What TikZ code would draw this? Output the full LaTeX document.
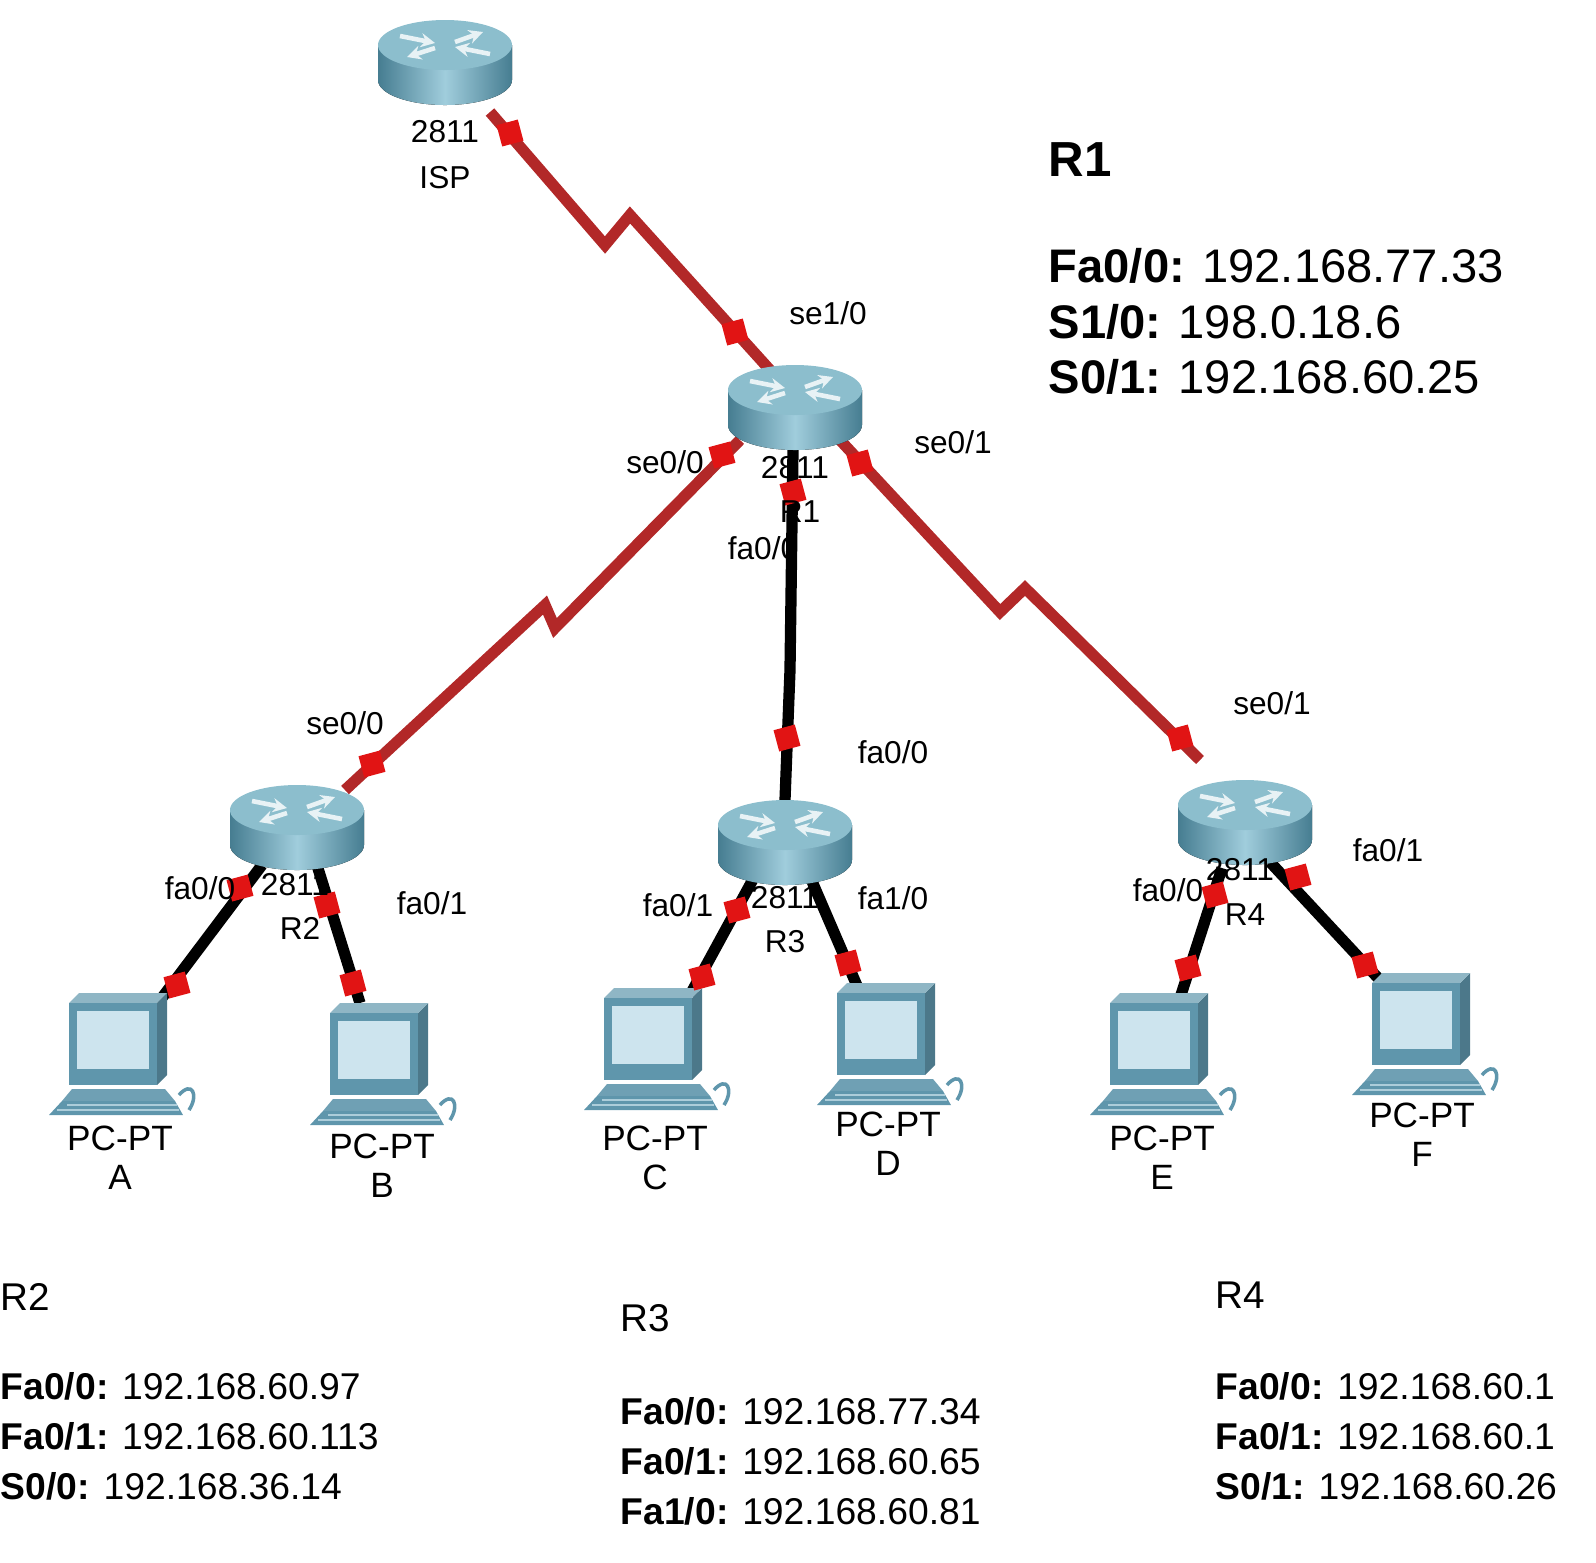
\documentclass[tikz,border=0pt]{standalone}
\usepackage{fontspec}
\setmainfont{Liberation Sans}
\usetikzlibrary{arrows.meta}
\begin{document}
\begin{tikzpicture}[x=0.01cm,y=-0.01cm]
\definecolor{ser}{RGB}{178,40,40}
\definecolor{dotr}{RGB}{225,20,20}
\definecolor{rdark}{RGB}{70,125,145}
\definecolor{rlight}{RGB}{160,205,220}
\definecolor{rtop}{RGB}{140,190,205}
\definecolor{pcframe}{RGB}{95,150,172}
\definecolor{pcscreen}{RGB}{205,228,238}
\tikzset{
 serial/.style={draw=ser,line width=3.2pt},
 eth/.style={draw=black,line width=3.2pt},
 lbl/.style={font=\fontsize{9}{10}\selectfont,inner sep=0pt},
 pclbl/.style={font=\fontsize{10}{11}\selectfont,inner sep=0pt,align=center},
 ttl/.style={font=\fontsize{11}{12}\selectfont,inner sep=0pt,anchor=west},
 bigttl/.style={font=\bfseries\fontsize{14}{16}\selectfont,inner sep=0pt,anchor=west},
 info/.style={font=\fontsize{10.6}{14.2}\selectfont,inner sep=0pt,anchor=north west,align=left},
 biginfo/.style={font=\fontsize{13.4}{15.8}\selectfont,inner sep=0pt,anchor=north west,align=left},
 rdot/.style={fill=dotr,minimum size=0.22cm,inner sep=0pt,rotate=15},
 rarr/.style={white!80!rtop,line width=1.3pt,-{Stealth[length=4pt,width=4pt]}},
 router/.pic={
  \fill[left color=rdark,right color=rdark,middle color=rlight] (-67,-15) -- (-67,20) arc[x radius=67,y radius=25,start angle=180,end angle=0] -- (67,-15) -- cycle;
  \fill[rtop] (0,-15) ellipse[x radius=67,y radius=25];
  \draw[rarr] (-45,-24)--(-10,-17);
  \draw[rarr] (45,-6)--(10,-13);
  \draw[rarr] (-10,-12)--(-38,-3);
  \draw[rarr] (10,-18)--(38,-28);
 },
 pc/.pic={
  \fill[pcframe!80!black] (40,-42)--(50,-52)--(50,30)--(40,40)--cycle;
  \fill[pcframe!70!white] (-48,-42)--(-38,-52)--(50,-52)--(40,-42)--cycle;
  \fill[pcframe] (-48,-42) rectangle (40,40);
  \fill[pcscreen] (-40,-34) rectangle (32,24);
  \fill[pcframe!90!white] (-45,44)--(48,44)--(58,56)--(-55,56)--cycle;
  \fill[pcframe] (-55,56)--(58,56)--(66,70)--(-68,70)--cycle;
  \draw[pcscreen!70!pcframe,line width=0.6pt] (-50,60)--(60,60) (-60,65)--(62,65);
  \draw[pcframe,line width=1pt] (62,50) .. controls (75,35) and (82,50) .. (72,65);
 }
}
\useasboundingbox (0,0) rectangle (1596,1562);
\clip (0,0) rectangle (1596,1562);
\coordinate (isp) at (445,60);
\coordinate (r1) at (795,405);
\coordinate (r2) at (297,825);
\coordinate (r3) at (785,840);
\coordinate (r4) at (1245,820);
\coordinate (a1) at (490,112); \coordinate (a2) at (605,245); \coordinate (a3) at (630,215); \coordinate (a4) at (770,370);
\draw[serial] (a1)--(a2)--(a3)--(a4);
\coordinate (b1) at (740,440); \coordinate (b2) at (555,628); \coordinate (b3) at (545,605); \coordinate (b4) at (345,790);
\draw[serial] (b1)--(b2)--(b3)--(b4);
\coordinate (c1) at (840,440); \coordinate (c2) at (1000,612); \coordinate (c3) at (1025,588); \coordinate (c4) at (1200,760);
\draw[serial] (c1)--(c2)--(c3)--(c4);
\coordinate (d1) at (793,450); \coordinate (d2) at (790,670); \coordinate (d3) at (785,800);
\draw[eth] (d1)--(d2)--(d3);
\coordinate (pa) at (117,1045); \coordinate (pb) at (378,1055); \coordinate (pc) at (652,1040);
\coordinate (pd) at (885,1035); \coordinate (pe) at (1158,1045); \coordinate (pf) at (1420,1025);
\coordinate (ra1) at (262,865); \coordinate (ra2) at (316,862);
\coordinate (rc1) at (757,872); \coordinate (rc2) at (808,872);
\coordinate (re1) at (1222,868); \coordinate (re2) at (1270,862);
\draw[eth] (ra1)--(158,1003); \draw[eth] (ra2)--(360,1003);
\draw[eth] (rc1)--(690,995); \draw[eth] (rc2)--(858,988);
\draw[eth] (re1)--(1180,998); \draw[eth] (re2)--(1378,978);
\pic at (isp) {router}; \pic at (r1) {router}; \pic at (r2) {router}; \pic at (r3) {router}; \pic at (r4) {router};
\pic at (pa) {pc}; \pic at (pb) {pc}; \pic at (pc) {pc}; \pic at (pd) {pc}; \pic at (pe) {pc}; \pic at (pf) {pc};
\foreach \p [count=\i] in {(510,133),(735,332),(722,455),(793,492),(860,463),(372,764),(787,738),(1180,738),(240,888),(327,905),(177,985),(353,983),(737,910),(848,963),(702,977),(1215,895),(1298,877),(1188,968),(1365,965)}
  \node[rdot] (dot\i) at \p {};
\node[lbl] (l1) at (445,132) {2811}; \node[lbl] (l2) at (445,178) {ISP};
\node[lbl] (l3) at (795,468) {2811}; \node[lbl] (l4) at (800,512) {R1};
\node[lbl] (l5) at (763,548) {fa0/0}; \node[lbl] (l6) at (828,313) {se1/0};
\node[lbl] (l7) at (665,462) {se0/0}; \node[lbl] (l8) at (953,442) {se0/1};
\node[lbl] (l9) at (345,723) {se0/0}; \node[lbl] (l10) at (200,888) {fa0/0};
\node[lbl] (l11) at (295,885) {2811}; \node[lbl] (l12) at (300,928) {R2};
\node[lbl] (l13) at (432,903) {fa0/1};
\node[lbl] (l14) at (893,752) {fa0/0}; \node[lbl] (l15) at (678,905) {fa0/1};
\node[lbl] (l16) at (785,898) {2811}; \node[lbl] (l17) at (785,942) {R3};
\node[lbl] (l18) at (893,898) {fa1/0};
\node[lbl] (l19) at (1272,703) {se0/1}; \node[lbl] (l20) at (1388,850) {fa0/1};
\node[lbl] (l21) at (1168,890) {fa0/0}; \node[lbl] (l22) at (1240,870) {2811};
\node[lbl] (l23) at (1245,915) {R4};
\node[pclbl] (ta) at (120,1158) {PC-PT\\A};
\node[pclbl] (tb) at (382,1166) {PC-PT\\B};
\node[pclbl] (tc) at (655,1158) {PC-PT\\C};
\node[pclbl] (td) at (888,1144) {PC-PT\\D};
\node[pclbl] (te) at (1162,1158) {PC-PT\\E};
\node[pclbl] (tf) at (1422,1135) {PC-PT\\F};
\node[bigttl] (i1) at (1048,160) {R1};
\node[biginfo] (i1b) at (1048,248) {\textbf{Fa0/0:} 192.168.77.33\\\textbf{S1/0:} 198.0.18.6\\\textbf{S0/1:} 192.168.60.25};
\node[ttl] (i2) at (0,1297) {R2};
\node[info] (i2b) at (0,1372) {\textbf{Fa0/0:} 192.168.60.97\\\textbf{Fa0/1:} 192.168.60.113\\\textbf{S0/0:} 192.168.36.14};
\node[ttl] (i3) at (620,1318) {R3};
\node[info] (i3b) at (620,1397) {\textbf{Fa0/0:} 192.168.77.34\\\textbf{Fa0/1:} 192.168.60.65\\\textbf{Fa1/0:} 192.168.60.81};
\node[ttl] (i4) at (1215,1295) {R4};
\node[info] (i4b) at (1215,1372) {\textbf{Fa0/0:} 192.168.60.1\\\textbf{Fa0/1:} 192.168.60.1\\\textbf{S0/1:} 192.168.60.26};
\end{tikzpicture}
\end{document}
